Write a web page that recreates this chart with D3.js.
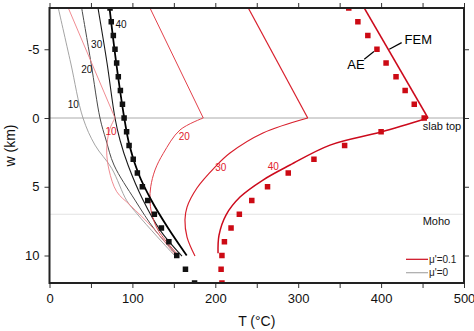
<!DOCTYPE html>
<html>
<head>
<meta charset="utf-8">
<script src="https://cdn.jsdelivr.net/npm/d3@7"></script>
<style>
  body { margin: 0; background: #fff; }
  svg { display: block; font-family: "Liberation Sans", Arial, Helvetica, sans-serif; }
</style>
</head>
<body>
<svg id="chart" width="474" height="331"></svg>
<script>
// ---------------- data (T in °C, w in km) ----------------
const xTicks = [0, 50, 100, 150, 200, 250, 300, 350, 400, 450, 500];
const xTickLabels = [0, 100, 200, 300, 400, 500];
const yTicks = [-5, 0, 5, 10];
const slabTop = 0;
const moho = 7;

// AE (analytical) points, every 1 km
const depthAE = [-8, -7, -6, -5, -4, -3, -2, -1, 0, 1, 2, 3, 4, 5, 6, 7, 8, 9, 10, 11, 12];
const aeMu0  = [73, 74.5, 77, 79, 81, 83, 85.5, 88, 90, 93, 96, 101, 106, 112, 118.5, 126.5, 135, 144, 153.5, 164, 175];
const aeMu01 = [361, 372, 384, 395, 406, 418, 429, 440, 452, 400, 356, 319, 288, 263, 244, 229, 219, 211, 208, 207, 208];

// FEM curves, mu'=0 (labels 10..40)
const fem0_10 = [[10.6,-8],[25.6,-4],[40.4,0],[54.9,1.97],[75.0,3.66],[93.1,6.0],[105.2,6.94],[129.3,8.59],[151.4,10.04]];
const fem0_20 = [[38.8,-8],[50.1,-4],[60.9,0],[68.2,1.6],[77.8,3.42],[103.1,5.97],[127.3,8.15],[155.0,10.04]];
const fem0_30 = [[58.5,-8],[69.4,-4],[79.0,0],[85.0,1.6],[94.7,3.42],[112.8,5.97],[133.3,8.15],[159.8,10.04]];
const fem0_40 = [[72.4,-8],[80.5,-4],[90.2,0],[96.5,2],[107,4],[123,6],[143,8],[165.5,10]];

// FEM curves, mu'=0.1
const fem01_10 = [[22.7,-8],[79.0,0],[72.4,0.87],[69.0,2.33],[71.8,3.78],[81.1,5.36],[97.1,6.33],[124.8,8.0],[152.6,10.04]];
const fem01_20 = [[121.2,-8],[185.5,0],[157.4,0.87],[137.3,2.57],[127.3,3.78],[122.1,5.0],[121.2,5.97],[123.3,6.94],[130.9,8.15],[156.2,10.04]];
const fem01_30 = [[239.8,-8],[311.5,0],[257.5,1.09],[217.7,2.55],[199.6,3.57],[177.9,5.09],[165.9,6.48],[163.4,7.42],[165.9,8.66],[175.5,10.04]];
const fem01_40 = [[379.7,-8],[456.6,0],[399.9,1.02],[338.4,1.97],[290.1,3.42],[257.5,4.51],[229.8,5.75],[212.9,7.06],[204.5,8.52],[203.3,9.83]];

// contour labels [text, T, w]
const labels0  = [["10", 28.7, -0.95], ["20", 44.9, -3.54], ["30", 56.9, -5.36], ["40", 86.2, -6.77]];
const labels01 = [["10", 74.2, 1.0], ["20", 162.6, 1.31], ["30", 206.5, 3.59], ["40", 270, 3.54]];

// ---------------- layout ----------------
const svg = d3.select("#chart");
const x = d3.scaleLinear().domain([0, 500]).range([49.5, 464]);
const y = d3.scaleLinear().domain([-8, 12]).range([8, 283]);

svg.append("rect").attr("width", 474).attr("height", 331).attr("fill", "#fff");

svg.append("defs").append("clipPath").attr("id", "plotclip")
  .append("rect").attr("x", x(0)).attr("y", y(-8)).attr("width", x(500) - x(0)).attr("height", y(12) - y(-8));

const plot = svg.append("g").attr("clip-path", "url(#plotclip)");

// reference lines
plot.append("line").attr("x1", x(0)).attr("x2", x(500)).attr("y1", y(moho)).attr("y2", y(moho))
  .attr("stroke", "#e2e2e2").attr("stroke-width", 1);
plot.append("line").attr("x1", x(0)).attr("x2", x(500)).attr("y1", y(slabTop)).attr("y2", y(slabTop))
  .attr("stroke", "#aaaaaa").attr("stroke-width", 1);

// curve drawing
const lineSmooth = d3.line().x(d => x(d[0])).y(d => y(d[1])).curve(d3.curveCatmullRom.alpha(0.5));
// mu'=0.1 curves: kink at slab top (straight above, smooth below)
function drawKinked(data, color, width) {
  const upper = data.filter(d => d[1] <= 0);
  const lower = data.filter(d => d[1] >= 0);
  plot.append("path").attr("d", lineSmooth(upper)).attr("fill", "none").attr("stroke", color).attr("stroke-width", width);
  plot.append("path").attr("d", lineSmooth(lower)).attr("fill", "none").attr("stroke", color).attr("stroke-width", width);
}
// mu'=0 curves: one smooth curve
function drawSmooth(data, color, width) {
  plot.append("path").attr("d", lineSmooth(data)).attr("fill", "none").attr("stroke", color).attr("stroke-width", width);
}

drawSmooth(fem0_10, "#9a9a9a", 0.9);
drawSmooth(fem0_20, "#4a4a4a", 1.0);
drawSmooth(fem0_30, "#1a1a1a", 1.1);
drawKinked(fem01_10, "#ee7f86", 0.9);
drawKinked(fem01_20, "#e2404a", 1.0);
drawKinked(fem01_30, "#d81f2c", 1.2);
drawKinked(fem01_40, "#cc0a1c", 1.5);
drawSmooth(fem0_40, "#000000", 1.8);

// AE squares
const sq = 5.5;
plot.selectAll("rect.ae0").data(depthAE).enter().append("rect")
  .attr("x", (d, i) => x(aeMu0[i]) - sq / 2).attr("y", d => y(d) - sq / 2)
  .attr("width", sq).attr("height", sq).attr("fill", "#111");
plot.selectAll("rect.ae01").data(depthAE).enter().append("rect")
  .attr("x", (d, i) => x(aeMu01[i]) - sq / 2).attr("y", d => y(d) - sq / 2)
  .attr("width", sq).attr("height", sq).attr("fill", "#cc0a14");

// contour labels
svg.selectAll("text.l0").data(labels0).enter().append("text")
  .attr("x", d => x(d[1])).attr("y", d => y(d[2])).attr("dy", "0.35em")
  .attr("text-anchor", "middle").attr("font-size", 10).attr("fill", "#111").text(d => d[0]);
svg.selectAll("text.l01").data(labels01).enter().append("text")
  .attr("x", d => x(d[1])).attr("y", d => y(d[2])).attr("dy", "0.35em")
  .attr("text-anchor", "middle").attr("font-size", 10).attr("fill", "#e0202c").text(d => d[0]);

// annotations FEM / AE
svg.append("line").attr("x1", x(424.8)).attr("y1", y(-5.48)).attr("x2", x(409.9)).attr("y2", y(-5.0))
  .attr("stroke", "#000").attr("stroke-width", 1.2);
svg.append("text").attr("x", x(444.9)).attr("y", y(-5.73)).attr("dy", "0.35em")
  .attr("text-anchor", "middle").attr("font-size", 13).text("FEM");
svg.append("line").attr("x1", x(379.7)).attr("y1", y(-4.27)).attr("x2", x(391.4)).attr("y2", y(-4.83))
  .attr("stroke", "#000").attr("stroke-width", 1.2);
svg.append("text").attr("x", x(369.7)).attr("y", y(-3.91)).attr("dy", "0.35em")
  .attr("text-anchor", "middle").attr("font-size", 13).text("AE");

svg.append("text").attr("x", x(450.2)).attr("y", y(slabTop) + 11.5)
  .attr("font-size", 11).attr("fill", "#111").text("slab top");
svg.append("text").attr("x", x(450.2)).attr("y", y(moho) + 11)
  .attr("font-size", 11).attr("fill", "#111").text("Moho");

// legend
const legend = [["μ'=0.1", "#cc0a1c"], ["μ'=0", "#aaaaaa"]];
legend.forEach((d, i) => {
  const ly = 259.3 + i * 13.4;
  svg.append("line").attr("x1", 406).attr("x2", 428).attr("y1", ly).attr("y2", ly)
    .attr("stroke", d[1]).attr("stroke-width", 1.2);
  svg.append("text").attr("x", 429).attr("y", ly).attr("dy", "0.35em")
    .attr("font-size", 10).attr("fill", "#222").text(d[0]);
});

// axes
const fmtX = d => xTickLabels.includes(d) ? String(d) : "";
const gB = svg.append("g").attr("transform", `translate(0,${y(12)})`)
  .call(d3.axisBottom(x).tickValues(xTicks).tickFormat(fmtX).tickSize(5).tickPadding(6));
const gT = svg.append("g").attr("transform", `translate(0,${y(-8)})`)
  .call(d3.axisTop(x).tickValues(xTicks).tickFormat("").tickSize(5));
const gL = svg.append("g").attr("transform", `translate(${x(0)},0)`)
  .call(d3.axisLeft(y).tickValues(yTicks).tickFormat(d => String(d)).tickSize(5).tickPadding(5));
const gR = svg.append("g").attr("transform", `translate(${x(500)},0)`)
  .call(d3.axisRight(y).tickValues(yTicks).tickFormat("").tickSize(5));
[gB, gT, gL, gR].forEach(g => {
  g.select(".domain").remove();
  g.selectAll(".tick line").attr("stroke", "#333");
  g.selectAll("text").attr("font-size", 13).attr("fill", "#111")
    .attr("font-family", "'Liberation Sans', Arial, sans-serif");
});

// frame
svg.append("rect").attr("x", x(0)).attr("y", y(-8)).attr("width", x(500) - x(0)).attr("height", y(12) - y(-8))
  .attr("fill", "none").attr("stroke", "#222").attr("stroke-width", 2);

// axis titles
svg.append("text").attr("x", (x(0) + x(500)) / 2).attr("y", 326).attr("text-anchor", "middle")
  .attr("font-size", 14).attr("fill", "#111").text("T (°C)");
svg.append("text").attr("transform", `translate(15,${(y(-8) + y(12)) / 2}) rotate(-90)`)
  .attr("text-anchor", "middle").attr("font-size", 14).attr("fill", "#111").text("w (km)");
</script>
</body>
</html>
